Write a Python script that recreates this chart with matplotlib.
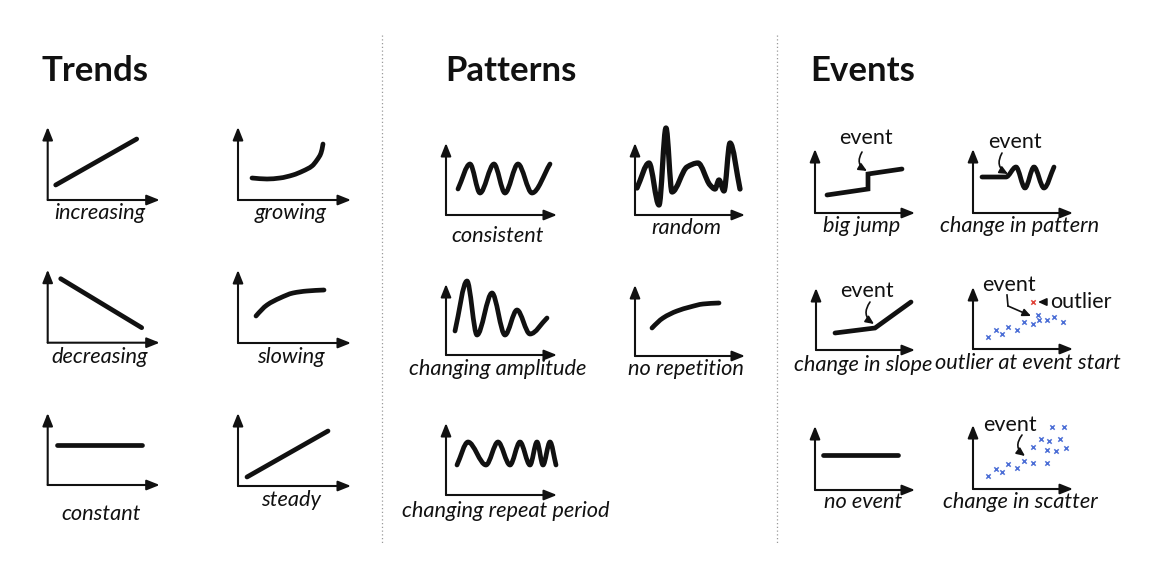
import numpy as np
import matplotlib.pyplot as plt
from matplotlib.path import Path
from matplotlib.patches import PathPatch

W, H = 1154, 577

# values, in each little chart's own units
increasing_x = [8, 89]
increasing_y = [15, 61]
growing_x = [14, 29, 42, 55, 65, 74, 79, 83, 85]
growing_y = [22, 21, 22, 25, 29, 34, 40, 47, 56]
decreasing_x = [13, 94]
decreasing_y = [64, 15]
slowing_x = [18, 29, 42, 55, 69, 86]
slowing_y = [27, 38, 45, 50, 52, 53]
constant_x = [9, 94]
constant_y = [40, 40]
steady_x = [9, 90]
steady_y = [9, 55]

consistent_x = [12, 24, 34, 48, 59, 72, 86, 104]
consistent_y = [26, 51, 22, 51, 22, 51, 22, 51]
random_x = [2, 14, 24, 31, 37, 52, 63, 75, 80, 84, 89, 95, 105]
random_y = [27, 52, 10, 87, 23, 48, 52, 30, 26, 35, 24, 72, 26]
amplitude_x = [9, 21, 31, 46, 59, 71, 84, 101]
amplitude_y = [24, 74, 20, 62, 20, 45, 21, 37]
norep_x = [17, 28, 42, 55, 68, 84]
norep_y = [28, 38, 45, 49, 52, 53]
period_x = [11, 22, 40, 52, 64, 74, 84, 91, 97, 104, 110]
period_y = [30, 53, 30, 53, 30, 53, 30, 53, 30, 53, 30]

jump_x = [12, 53, 53, 87]
jump_y = [18, 24, 39, 44]
pattern_x = [9, 33, 43, 52, 61, 71, 81]
pattern_y = [36, 36, 46, 25, 46, 25, 46]
slope_x = [19, 59, 95]
slope_y = [17, 22, 48]
outlier_x = [15, 23, 29, 35, 44, 51, 60, 65, 66, 74, 81, 90]
outlier_y = [12, 19, 15, 22, 19, 27, 25, 34, 29, 29, 32, 27]
outlier_pt = (60, 47)
noevent_x = [8, 83]
noevent_y = [35, 35]
scatter_x = [15, 23, 29, 35, 44, 51, 60, 60, 68, 74, 76, 79, 74, 83, 87, 91, 93]
scatter_y = [13, 20, 17, 25, 21, 28, 26, 42, 50, 26, 48, 62, 39, 38, 50, 62, 41]

sections = ['Trends', 'Patterns', 'Events']

INK = '#111111'
BLUE = '#4d6fd6'
RED = '#e0443a'
LW = 3.4


def px(x, y):
    return x / W, 1 - y / H


def smooth(xs, ys):
    # monotone cubic (pchip style) drawn as bezier segments
    x = np.asarray(xs, float)
    y = np.asarray(ys, float)
    h = np.diff(x)
    d = np.diff(y) / h
    m = np.zeros_like(y)
    for i in range(1, len(y) - 1):
        if d[i - 1] * d[i] > 0:
            w1, w2 = 2 * h[i] + h[i - 1], h[i] + 2 * h[i - 1]
            m[i] = (w1 + w2) / (w1 / d[i - 1] + w2 / d[i])
    m[0], m[-1] = d[0], d[-1]
    if len(y) > 2:
        m[0] = d[0] if d[0] * d[1] <= 0 else (1.5 * d[0] - 0.5 * m[1])
        m[-1] = d[-1] if d[-1] * d[-2] <= 0 else (1.5 * d[-1] - 0.5 * m[-2])
    verts, codes = [(x[0], y[0])], [Path.MOVETO]
    for i in range(len(x) - 1):
        k = h[i] / 3
        verts += [(x[i] + k, y[i] + m[i] * k), (x[i + 1] - k, y[i + 1] - m[i + 1] * k),
                  (x[i + 1], y[i + 1])]
        codes += [Path.CURVE4] * 3
    return Path(verts, codes)


def mini(x0, y0, w, h):
    ax = fig.add_axes([x0 / W, 1 - y0 / H, w / W, h / H])
    ax.set_xlim(0, w)
    ax.set_ylim(0, h)
    ax.axis('off')
    head = dict(arrowstyle='-|>,head_length=0.55,head_width=0.22', lw=1.5,
                color=INK, mutation_scale=14, shrinkA=0, shrinkB=0)
    ax.annotate('', xy=(1, 0), xytext=(0, 0), xycoords='axes fraction', arrowprops=head)
    ax.annotate('', xy=(0, 1), xytext=(0, 0), xycoords='axes fraction', arrowprops=head)
    return ax


def line(ax, xs, ys, lw=LW):
    ax.plot(xs, ys, color=INK, lw=lw, solid_capstyle='round',
            solid_joinstyle='miter', clip_on=False)


def curve(ax, xs, ys, lw=LW):
    ax.add_patch(PathPatch(smooth(xs, ys), fill=False, ec=INK, lw=lw,
                           capstyle='round', joinstyle='round', clip_on=False))


def label(text, cx, cy):
    fig.text(*px(cx, cy), text, ha='center', va='center', fontsize=15.7,
             fontstyle='italic', family='Lato', color=INK)


SMALL_HEAD = dict(arrowstyle='-|>,head_length=0.55,head_width=0.25', lw=1.2,
                  color=INK, mutation_scale=9, shrinkA=0, shrinkB=0)


def event(ax, tx, ty, ax_, ay_, bx, by, rad=0.5):
    ax.text(tx, ty, 'event', ha='center', va='center', fontsize=15.5,
            family='Lato', color=INK, clip_on=False)
    ax.annotate('', xy=(bx, by), xytext=(ax_, ay_),
                arrowprops=dict(SMALL_HEAD, connectionstyle=f'arc3,rad={rad}'))


fig = plt.figure(figsize=(W / 100, H / 100), dpi=100)

for name, x in zip(sections, [42, 445, 810]):
    fig.text(*px(x, 71), name, ha='left', va='center', fontsize=25,
             fontweight='bold', family='Lato', color=INK)

for x in [382, 777]:
    fig.add_artist(plt.Line2D([x / W, x / W], [1 - 35 / H, 1 - 545 / H],
                              transform=fig.transFigure, color='#9a9a9a',
                              lw=0.9, linestyle=(0, (1, 2))))

# Trends
ax = mini(47.7, 200, 112, 73)
line(ax, increasing_x, increasing_y)
label('increasing', 100, 213)
ax = mini(238, 200, 113, 73)
curve(ax, growing_x, growing_y)
label('growing', 291, 213)
ax = mini(47.7, 342.7, 112, 73)
line(ax, decreasing_x, decreasing_y)
label('decreasing', 100, 357)
ax = mini(238, 343, 113, 73)
curve(ax, slowing_x, slowing_y)
label('slowing', 291, 357)
ax = mini(47.7, 485, 112, 72)
line(ax, constant_x, constant_y)
label('constant', 101, 514)
ax = mini(238, 486, 113, 73)
line(ax, steady_x, steady_y)
label('steady', 291, 500)

# Patterns
ax = mini(446, 215, 111, 72)
curve(ax, consistent_x, consistent_y)
label('consistent', 498, 236)
ax = mini(635, 215, 110, 72)
curve(ax, random_x, random_y, lw=3.8)
label('random', 686, 228)
ax = mini(446, 355, 111, 71)
curve(ax, amplitude_x, amplitude_y)
label('changing amplitude', 498, 369)
ax = mini(635, 356, 110, 71)
curve(ax, norep_x, norep_y)
label('no repetition', 686, 369)
ax = mini(446, 495, 111, 72)
curve(ax, period_x, period_y)
label('changing repeat period', 506, 511)

# Events
ax = mini(815, 213, 100, 64)
line(ax, jump_x, jump_y)
event(ax, 51, 75, 47, 61, 52, 42)
label('big jump', 862, 226)

ax = mini(973, 213, 100, 64)
curve(ax, pattern_x, pattern_y)
event(ax, 42, 71, 29, 60, 35, 39)
label('change in pattern', 1020, 226)

ax = mini(816, 350, 99, 62)
line(ax, slope_x, slope_y)
event(ax, 51, 59, 54, 48, 58, 26)
label('change in slope', 863, 365)

ax = mini(973, 349, 100, 62)
ax.scatter(outlier_x, outlier_y, marker='x', s=10, lw=1.1, color=BLUE, clip_on=False)
ax.scatter([outlier_pt[0]], [outlier_pt[1]], marker='x', s=10, lw=1.1, color=RED, clip_on=False)
ax.text(36, 64, 'event', ha='center', va='center', fontsize=15.5, family='Lato',
        color=INK, clip_on=False)
ax.plot([34, 35], [54, 43], color=INK, lw=1.2, clip_on=False)
ax.annotate('', xy=(58, 33), xytext=(35, 43), arrowprops=SMALL_HEAD)
ax.annotate('outlier', xy=(65, 47), xytext=(77, 47), ha='left', va='center',
            fontsize=15.5, family='Lato', color=INK,
            arrowprops=dict(SMALL_HEAD, shrinkA=1))
label('outlier at event start', 1028, 363)

ax = mini(815, 490, 100, 64)
line(ax, noevent_x, noevent_y)
label('no event', 863, 502)

ax = mini(973, 489, 100, 64)
ax.scatter(scatter_x, scatter_y, marker='x', s=10, lw=1.1, color=BLUE, clip_on=False)
event(ax, 37, 64, 49, 54, 52, 33)
label('change in scatter', 1020, 502)

fig.savefig('out.png', dpi=100, facecolor='white')
